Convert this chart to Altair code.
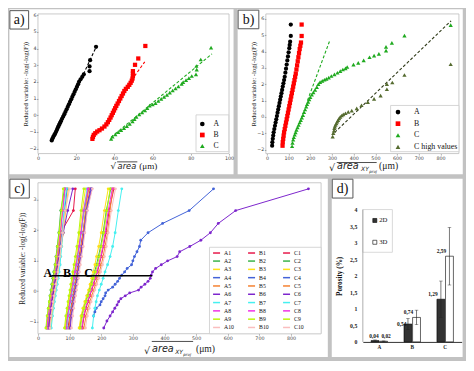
import altair as alt
import pandas as pd

SX = 456 / 474
SY = 350 / 371
SERIF = "Liberation Serif"
SANS = "DejaVu Sans"

# ---------------- panel a data ----------------
a_A_x = [7.2, 7.6, 8.0, 8.5, 9.0, 9.5, 10.0, 10.5, 11.0, 11.5, 12.0, 12.6, 13.2, 13.8, 14.4, 15.0, 15.6,
         16.2, 16.8, 17.4, 18.0, 18.6, 19.2, 19.8, 20.4, 21.0, 21.5, 22.3, 23.2, 24.0, 27.0, 27.0, 27.3, 30.4]
a_A_y = [-1.51, -1.4, -1.3, -1.2, -1.1, -0.98, -0.85, -0.72, -0.6, -0.48, -0.36, -0.22, -0.08, 0.06, 0.2,
         0.35, 0.5, 0.65, 0.8, 0.95, 1.1, 1.25, 1.4, 1.55, 1.7, 1.85, 2.0, 2.15, 2.3, 2.45, 2.64, 2.92, 3.3, 4.1]
a_B_x = [28.5, 28.8, 29.2, 30.0, 31.0, 32.2, 33.5, 34.8, 35.8, 36.6, 37.3, 38.0, 38.6, 39.2, 39.8, 40.4,
         41.0, 41.7, 42.4, 43.1, 43.8, 44.5, 45.2, 46.0, 47.0, 47.8, 48.5, 49.1, 49.5, 49.7, 49.7, 49.7,
         50.8, 52.5, 56.2]
a_B_y = [-1.42, -1.3, -1.18, -1.08, -0.98, -0.9, -0.8, -0.68, -0.55, -0.42, -0.28, -0.14, 0.0, 0.14, 0.28,
         0.42, 0.56, 0.7, 0.85, 1.0, 1.15, 1.3, 1.45, 1.58, 1.7, 1.82, 1.94, 2.07, 2.2, 2.35, 2.5, 2.64,
         3.02, 3.4, 4.15]
a_C_x = [38.3, 39.0, 40.5, 42.0, 43.5, 45.0, 46.5, 48.0, 49.5, 50.5, 51.5, 53.0, 54.5, 56.0, 57.2, 58.4,
         60.0, 61.5, 63.0, 64.5, 66.0, 67.5, 69.0, 70.5, 72.0, 73.5, 75.2, 76.0, 77.5, 79.0, 80.5, 82.7,
         83.1, 82.9, 85.2, 90.6]
a_C_y = [-1.42, -1.28, -1.15, -1.02, -0.9, -0.78, -0.66, -0.52, -0.38, -0.24, -0.1, 0.04, 0.16, 0.28, 0.42,
         0.57, 0.64, 0.72, 0.85, 0.98, 1.1, 1.22, 1.35, 1.48, 1.6, 1.72, 1.88, 1.98, 2.1, 2.22, 2.35, 2.45,
         2.73, 2.95, 3.34, 4.05]
a_fit_s = ["A", "A", "B", "B", "C", "C"]
a_fit_x = [7.2, 30.7, 49.0, 55.9, 38.3, 91.1]
a_fit_y = [-1.61, 4.15, 2.1, 3.2, -1.32, 3.68]

# ---------------- panel b data ----------------
b_A_x = [24, 25, 27, 29, 31, 34, 37, 40, 43, 46, 49, 52, 55, 58, 61, 64, 67, 70, 73, 76, 79, 82, 85, 88,
         91, 94, 97, 100, 103, 105, 107, 110, 110]
b_A_y = [-1.77, -1.55, -1.35, -1.15, -0.95, -0.75, -0.55, -0.35, -0.15, 0.05, 0.25, 0.45, 0.65, 0.85, 1.05,
         1.25, 1.45, 1.65, 1.85, 2.05, 2.25, 2.45, 2.7, 2.95, 3.2, 3.45, 3.7, 3.95, 4.2, 4.4, 4.6, 4.95, 5.65]
b_B_x = [72, 73, 75, 77, 79, 82, 85, 88, 91, 94, 97, 100, 103, 106, 109, 112, 115, 118, 121, 124, 127, 130,
         133, 136, 139, 142, 145, 148, 151, 154, 157, 160, 160]
b_B_y = [-1.77, -1.55, -1.35, -1.15, -0.95, -0.75, -0.55, -0.35, -0.15, 0.05, 0.25, 0.45, 0.65, 0.85, 1.05,
         1.25, 1.45, 1.65, 1.85, 2.05, 2.25, 2.45, 2.65, 2.9, 3.15, 3.4, 3.65, 3.9, 4.15, 4.35, 4.55, 4.95, 5.65]
b_C_x = [116, 118, 121, 124, 128, 132, 136, 141, 146, 151, 156, 161, 166, 171, 176, 181, 185, 190, 195, 200,
         207, 214, 222, 230, 237, 245, 255, 265, 274, 285, 297, 311, 325, 338, 350, 362, 370, 399, 421, 446,
         473, 494, 516, 549, 549, 576, 634, 847]
b_C_y = [-1.8, -1.6, -1.4, -1.25, -1.1, -0.95, -0.8, -0.65, -0.5, -0.35, -0.2, -0.05, 0.1, 0.29, 0.45, 0.62,
         0.77, 0.92, 1.07, 1.2, 1.35, 1.5, 1.65, 1.82, 2.0, 2.12, 2.2, 2.27, 2.32, 2.4, 2.5, 2.6, 2.7, 2.8,
         2.9, 2.97, 3.05, 3.2, 3.3, 3.46, 3.65, 3.75, 3.85, 4.05, 4.28, 4.53, 4.97, 5.62]
b_H_x = [303, 306, 309, 311, 313, 316, 320, 324, 328, 333, 338, 345, 352, 362, 375, 391, 414, 436, 465, 494,
         524, 553, 553, 578, 634, 847]
b_H_y = [-1.21, -1.0, -0.85, -0.7, -0.6, -0.5, -0.4, -0.3, -0.2, -0.1, 0.0, 0.08, 0.15, 0.22, 0.3, 0.38,
         0.52, 0.71, 0.9, 1.1, 1.3, 1.69, 2.0, 2.1, 2.56, 3.22]
b_fit_s = ["C", "C", "C high values", "C high values"]
b_fit_x = [187, 291, 312, 849]
b_fit_y = [1.0, 4.72, -0.96, 5.88]

# ---------------- panel c data ----------------
c_levels28 = [-1.214, -0.984, -0.819, -0.684, -0.564, -0.455, -0.352, -0.253, -0.157, -0.063, 0.031, 0.125,
              0.221, 0.317, 0.417, 0.519, 0.627, 0.740, 0.861, 0.989, 1.130, 1.287, 1.461, 1.666, 1.911,
              2.216, 2.638, 3.350]
c_levels15 = [-1.214, -0.819, -0.564, -0.352, -0.157, 0.031, 0.221, 0.417, 0.627, 0.861, 1.130, 1.461,
              1.911, 2.638, 3.350]
c_x = {
    "A1": [36, 40, 43, 46, 48, 50, 53, 55, 58, 61, 64, 68, 72, 112, 118],
    "A2": [27, 30, 33, 36, 38, 41, 44, 47, 50, 54, 57, 61, 66, 72, 84],
    "A3": [40, 44, 47, 50, 52, 55, 57, 60, 63, 66, 70, 74, 80, 88, 96],
    "A4": [32, 36, 39, 42, 45, 48, 51, 54, 57, 61, 65, 70, 76, 84, 92],
    "A5": [30, 34, 37, 40, 43, 46, 49, 52, 56, 59, 63, 67, 72, 78, 86],
    "A6": [34, 38, 41, 44, 47, 50, 53, 56, 59, 62, 66, 72, 80, 94, 110],
    "A7": [42, 46, 49, 52, 55, 58, 61, 64, 67, 70, 72, 75, 78, 82, 90],
    "A8": [28, 32, 36, 39, 42, 45, 48, 51, 54, 57, 60, 64, 70, 78, 85],
    "A9": [25, 29, 33, 36, 39, 43, 46, 49, 52, 55, 58, 62, 67, 74, 80],
    "A10": [38, 42, 45, 48, 51, 54, 57, 60, 63, 66, 69, 73, 78, 86, 100],
    "B1": [95, 100, 104, 107, 110, 113, 116, 119, 122, 126, 130, 135, 142, 152, 165],
    "B2": [88, 92, 96, 100, 103, 106, 109, 112, 116, 120, 124, 130, 136, 146, 160],
    "B3": [86, 90, 94, 98, 101, 104, 107, 110, 114, 118, 122, 126, 132, 140, 150],
    "B4": [100, 104, 108, 111, 114, 117, 120, 123, 126, 130, 134, 139, 145, 152, 168],
    "B5": [98, 102, 106, 109, 112, 115, 118, 121, 124, 128, 132, 137, 143, 150, 160],
    "B6": [102, 106, 110, 113, 116, 119, 122, 125, 128, 131, 135, 140, 146, 155, 170],
    "B7": [92, 96, 100, 103, 106, 109, 112, 115, 118, 122, 126, 131, 137, 145, 155],
    "B8": [90, 94, 98, 101, 104, 107, 110, 113, 117, 121, 125, 130, 136, 144, 158],
    "B9": [84, 88, 92, 95, 98, 101, 104, 107, 110, 114, 118, 123, 129, 136, 145],
    "B10": [106, 110, 113, 116, 119, 122, 125, 128, 131, 134, 138, 143, 148, 156, 172],
    "C1": [140, 146, 152, 158, 164, 170, 176, 182, 188, 194, 200, 207, 215, 225, 240],
    "C2": [132, 138, 144, 150, 156, 162, 167, 173, 179, 185, 191, 198, 206, 216, 230],
    "C3": [130, 136, 142, 148, 154, 160, 165, 170, 175, 180, 185, 192, 200, 210, 222],
    "C4": [176, 180, 184, 196, 200, 206, 212, 214, 222, 236, 244, 252, 258, 265, 274, 282, 296, 300, 305,
           313, 321, 325, 348, 394, 478, 555],
    "C5": [145, 152, 158, 164, 170, 176, 182, 188, 194, 200, 206, 212, 220, 228, 236],
    "C6": [208, 218, 228, 236, 243, 250, 255, 262, 276, 290, 318, 326, 338, 348, 355, 358, 362, 372, 390,
           410, 440, 448, 480, 515, 545, 570, 625, 855],
    "C7": [172, 176, 180, 184, 188, 194, 200, 206, 212, 220, 228, 236, 244, 254, 265],
    "C8": [138, 144, 150, 156, 162, 168, 174, 180, 186, 192, 198, 205, 212, 222, 235],
    "C9": [134, 140, 146, 152, 158, 164, 170, 176, 182, 188, 194, 200, 208, 218, 228],
    "C10": [150, 156, 162, 168, 174, 180, 186, 192, 198, 204, 210, 216, 222, 232, 245],
}
c_groups = ["A", "B", "C"]
c_palette = ["#e6194b", "#3cb44b", "#ffe119", "#4363d8", "#f58231", "#7d26cd", "#46f0f0", "#f032e6",
             "#bcf60c", "#fabebe"]
c_letters = ["A", "B", "C"]
c_letters_x = [31, 92, 160]
c_letters_y = [0.47, 0.47, 0.47]
c_bar_x = [42]
c_bar_x2 = [361]
c_bar_y = [0.5]

# ---------------- panel d data ----------------
d_cats = ["A", "B", "C"]
d_2d = [0.04, 0.54, 1.29]
d_3d = [0.02, 0.74, 2.59]
d_err2d = [0.02, 0.17, 0.55]
d_err3d = [0.01, 0.22, 0.87]
d_ticks = [0, 0.5, 1, 1.5, 2, 2.5, 3, 3.5, 4]

# ---------------- helpers ----------------
ONE = pd.DataFrame({"k": [0]})


def rel(o, x, y):
    return (x - o[0]) * SX, (y - o[1]) * SY


def prect(o, x1, y1, x2, y2, **mk):
    (ax, ay), (bx, by) = rel(o, x1, y1), rel(o, x2, y2)
    return alt.Chart(ONE).mark_rect(**mk).encode(
        x=alt.value(ax), x2=alt.value(bx), y=alt.value(ay), y2=alt.value(by))


def pseg(o, x1, y1, x2, y2, **mk):
    (ax, ay), (bx, by) = rel(o, x1, y1), rel(o, x2, y2)
    return alt.Chart(ONE).mark_rule(**mk).encode(
        x=alt.value(ax), x2=alt.value(bx), y=alt.value(ay), y2=alt.value(by))


def ptext(o, x, y, text, size, **mk):
    ax, ay = rel(o, x, y)
    return alt.Chart(ONE).mark_text(text=text, fontSize=size * SX, **mk).encode(
        x=alt.value(ax), y=alt.value(ay))


def chrome(o, box, lbox, label):
    return [
        prect(o, *box, fill="white"),
        prect(o, *lbox, fill="white", stroke="#555555", strokeWidth=1),
        ptext(o, (lbox[0] + lbox[2]) / 2, (lbox[1] + lbox[3]) / 2 + 0.5, label, 14.5,
              font=SERIF, align="center", baseline="middle", color="#111111"),
    ]


def frame(W, H):
    return alt.Chart(ONE).mark_rect(fillOpacity=0, stroke="#bdbdbd", strokeWidth=0.8).encode(
        x=alt.value(0), x2=alt.value(W), y=alt.value(0), y2=alt.value(H))


def sqrt_title(o, sq, bar, area, subs, um):
    L = [
        ptext(o, sq[0], sq[1], "√", sq[2], font=SANS, align="left", baseline="alphabetic", color="#222222"),
        pseg(o, bar[0], bar[2], bar[1], bar[2], color="#222222", strokeWidth=0.8),
        ptext(o, area[0], area[1], "area", area[2], font=SANS, fontStyle="italic", align="left",
              baseline="alphabetic", color="#222222"),
    ]
    for t, x, y, s in subs:
        L.append(ptext(o, x, y, t, s, font=SANS, fontStyle="italic", align="left", baseline="alphabetic",
                       color="#222222"))
    L.append(ptext(o, um[0], um[1], "(μm)", um[2], font=SERIF, align="left", baseline="alphabetic",
                   color="#222222"))
    return L


def fit_lines(df, xenc, yenc, names, colors):
    out = []
    for nm, col in zip(names, colors):
        out.append(alt.Chart(df).mark_line(strokeDash=[3, 2], strokeWidth=1.1, color=col).encode(
            x=xenc, y=yenc).transform_filter(alt.datum.f == nm))
    return out


TICK = dict(grid=False, domain=False, ticks=True, tickSize=1.5, tickColor="#777777", tickWidth=0.6,
            labelFont=SANS, labelFontSize=4.8, labelColor="#444444", labelPadding=0.5, labelFlush=False,
            zindex=1)
YT = dict(titleFont=SERIF, titleFontWeight="normal", titleColor="#222222", titleAngle=270,
          titleAlign="center", titleBaseline="bottom")
YTITLE = "Reduced variable: -log(-log(F))"

# ---------------- panel a ----------------
oA = (30.7, 6.0)
WA = (229.3 - 30.7) * SX
HA = (154 - 6) * SY
dfa = pd.concat([
    pd.DataFrame({"s": "A", "x": a_A_x, "y": a_A_y}),
    pd.DataFrame({"s": "B", "x": a_B_x, "y": a_B_y}),
    pd.DataFrame({"s": "C", "x": a_C_x, "y": a_C_y}),
])
dfa_fit = pd.DataFrame({"f": a_fit_s, "x": a_fit_x, "y": a_fit_y})
xa = alt.X("x:Q", scale=alt.Scale(domain=[0, 100], nice=False, zero=False),
           axis=alt.Axis(values=[0, 20, 40, 60, 80, 100], title=None, **TICK))
ya = alt.Y("y:Q", scale=alt.Scale(domain=[-2.3, 6.07], nice=False, zero=False),
           axis=alt.Axis(values=list(range(-2, 7)), title=YTITLE, titleX=-9.6, titleY=HA / 2,
                         titleFontSize=7 * SX, **YT, **TICK))
leg_a = alt.Legend(title=None, orient="none", legendX=160.5, legendY=106.2, labelFont=SERIF,
                   labelFontSize=8 * SX, labelColor="#111111", symbolSize=22, rowPadding=2.0,
                   labelOffset=7.3, padding=0, zindex=1, symbolStrokeWidth=0)
dom_a = ["A", "B", "C"]
col_a = ["#000000", "#ff0000", "#1faa1f"]
pts_a = alt.Chart(dfa).mark_point(filled=True, opacity=1, size=18, strokeWidth=0).encode(
    x=xa, y=ya,
    color=alt.Color("s:N", scale=alt.Scale(domain=dom_a, range=col_a), legend=leg_a),
    shape=alt.Shape("s:N", scale=alt.Scale(domain=dom_a, range=["circle", "square", "triangle-up"]),
                    legend=leg_a))
panel_a = alt.layer(
    *chrome(oA, (1, 1, 234, 176), (1.5, 2.5, 21, 22), "a)"),
    frame(WA, HA), *fit_lines(dfa_fit, xa, ya, dom_a, col_a),
    prect(oA, 195, 113, 229, 152, fill="white", stroke="#cccccc", strokeWidth=0.8),
    pts_a,
    *sqrt_title(oA, (106, 170.5, 9), (113, 134, 162.8), (113.5, 170, 8.6), [], (136, 170, 9.5)),
).properties(width=WA, height=HA)

# ---------------- panel b ----------------
oB = (266.3, 6.0)
WB = (467 - 266.3) * SX
HB = (154 - 6) * SY
dfb = pd.concat([
    pd.DataFrame({"s": "A", "x": b_A_x, "y": b_A_y}),
    pd.DataFrame({"s": "B", "x": b_B_x, "y": b_B_y}),
    pd.DataFrame({"s": "C", "x": b_C_x, "y": b_C_y}),
    pd.DataFrame({"s": "C high values", "x": b_H_x, "y": b_H_y}),
])
dfb_fit = pd.DataFrame({"f": b_fit_s, "x": b_fit_x, "y": b_fit_y})
xb = alt.X("x:Q", scale=alt.Scale(domain=[-5, 885], nice=False, zero=False),
           axis=alt.Axis(values=list(range(0, 900, 100)), title=None, **TICK))
yb = alt.Y("y:Q", scale=alt.Scale(domain=[-2.25, 6.3], nice=False, zero=False),
           axis=alt.Axis(values=list(range(-2, 7)), title=YTITLE, titleX=-8.9, titleY=HB / 2,
                         titleFontSize=7 * SX, **YT, **TICK))
leg_b = alt.Legend(title=None, orient="none", legendX=128.2, legendY=94.2, labelFont=SERIF,
                   labelFontSize=8.2 * SX, labelColor="#111111", symbolSize=22, rowPadding=2.6,
                   labelOffset=12.1, padding=0, zindex=1, symbolStrokeWidth=0)
dom_b = ["A", "B", "C", "C high values"]
col_b = ["#000000", "#ff0000", "#1faa1f", "#556b2f"]
pts_b = alt.Chart(dfb).mark_point(filled=True, opacity=1, size=18, strokeWidth=0).encode(
    x=xb, y=yb,
    color=alt.Color("s:N", scale=alt.Scale(domain=dom_b, range=col_b), legend=leg_b),
    shape=alt.Shape("s:N", scale=alt.Scale(domain=dom_b,
                                          range=["circle", "square", "triangle-up", "triangle-up"]),
                    legend=leg_b))
panel_b = alt.layer(
    *chrome(oB, (237, 1, 471, 176), (237.5, 2, 259, 21.7), "b)"),
    frame(WB, HB), *fit_lines(dfb_fit, xb, yb, ["C", "C high values"], ["#1faa1f", "#2f3a18"]),
    prect(oB, 396, 103, 467, 152, fill="white", stroke="#cccccc", strokeWidth=0.8),
    pts_b,
    *sqrt_title(oB, (332, 172, 10), (340, 381.5, 163.5), (340.3, 170.5, 10),
                [("XY", 365.3, 173, 6.2), ("proj", 373.7, 175, 4.2)], (384, 170.5, 10)),
).properties(width=WB, height=HB)

# ---------------- panel c ----------------
oC = (30.7, 183.3)
WC = (325 - 30.7) * SX
HC = (343.3 - 183.3) * SY
rows = []
for name, xs in c_x.items():
    ys = c_levels15 if len(xs) == 15 else c_levels28[len(c_levels28) - len(xs):]
    for i, (xv, yv) in enumerate(zip(xs, ys)):
        rows.append({"s": name, "i": i, "x": xv, "y": yv})
dfc = pd.DataFrame(rows)
c_order = [f"{g}{k}" for g in c_groups for k in range(1, 11)]
c_range = [c_palette[k - 1] for g in c_groups for k in range(1, 11)]
xc = alt.X("x:Q", scale=alt.Scale(domain=[0, 895], nice=False, zero=False),
           axis=alt.Axis(values=list(range(0, 900, 100)), title=None, **TICK))
yc = alt.Y("y:Q", scale=alt.Scale(domain=[-1.4, 3.55], nice=False, zero=False),
           axis=alt.Axis(values=[-1, 0, 1, 2, 3], title=YTITLE, titleX=-11.9, titleY=HC / 2,
                         titleFontSize=7.6 * SX, **YT, **TICK))
leg_c = alt.Legend(title=None, orient="none", legendX=174.1, legendY=65.5, columns=3, symbolType="stroke",
                   symbolSize=49, symbolStrokeWidth=1.5, labelFont=SERIF, labelFontSize=6 * SX,
                   labelColor="#111111", labelOffset=3, rowPadding=0.3, columnPadding=11,
                   padding=0, zindex=1, symbolLimit=40)
cscale = alt.Scale(domain=c_order, range=c_range)
lines_c = alt.Chart(dfc).mark_line(strokeWidth=1).encode(
    x=xc, y=yc, color=alt.Color("s:N", scale=cscale, legend=leg_c), order=alt.Order("i:Q"))
pts_c = alt.Chart(dfc).mark_point(filled=True, opacity=1, size=8, strokeWidth=0).encode(
    x=xc, y=yc, color=alt.Color("s:N", scale=cscale, legend=leg_c))
dfc_rule = pd.DataFrame({"x": c_bar_x, "x2": c_bar_x2, "y": c_bar_y})
rule_c = alt.Chart(dfc_rule).mark_rule(color="black", strokeWidth=1.3).encode(x=xc, x2="x2:Q", y=yc)
dfc_let = pd.DataFrame({"t": c_letters, "x": c_letters_x, "y": c_letters_y})
let_c = alt.Chart(dfc_let).mark_text(font=SERIF, fontWeight="bold", fontSize=12.5 * SX,
                                     baseline="alphabetic", align="center", color="black").encode(
    x=xc, y=yc, text="t:N")
panel_c = alt.layer(
    *chrome(oC, (1, 179, 332, 368), (1.5, 179.5, 21.7, 199.5), "c)"),
    frame(WC, HC), lines_c, pts_c, rule_c, let_c,
    prect(oC, 209, 251.7, 325, 343.3, fill="white", stroke="#cccccc", strokeWidth=0.8),
    *sqrt_title(oC, (141, 364.5, 10), (149, 192, 351.5), (149.3, 362.7, 10),
                [("XY", 173.3, 365.3, 6.2), ("proj", 181.7, 366.5, 4.2)], (195, 363, 10)),
).properties(width=WC, height=HC)

# ---------------- panel d ----------------
# plot area top aligned with panel c (row alignment); the value axis runs 0..4 below it
oD = (367.3, 183.3)
D_TOP4 = 211.7
D_ZERO = 352.0
WD = (470 - 367.3) * SX
HD = (D_ZERO - oD[1]) * SY
d_ymax = 4 + (D_TOP4 - oD[1]) / ((D_ZERO - D_TOP4) / 4)
dfd = pd.DataFrame({
    "cat": d_cats * 2,
    "kind": ["2D"] * 3 + ["3D"] * 3,
    "v": d_2d + d_3d,
    "e": d_err2d + d_err3d,
})
dfd["lo"] = dfd["v"] - dfd["e"]
dfd["hi"] = dfd["v"] + dfd["e"]
dfd["lab"] = [f"{v:.2f}".replace(".", ",") for v in dfd["v"]]
dfd["key"] = dfd["cat"] + dfd["kind"]
xd = alt.X("cat:N", scale=alt.Scale(domain=d_cats, paddingInner=0.5, paddingOuter=0.25),
           axis=alt.Axis(title=None, labelAngle=0, domainColor="black", domainWidth=0.8, ticks=False,
                         labelFont=SERIF, labelFontWeight="bold", labelFontSize=5.5 * SX,
                         labelColor="#222222", labelPadding=3, zindex=1))
xo = alt.XOffset("kind:N", scale=alt.Scale(domain=["2D", "3D"], paddingInner=0.08))
yscale_d = alt.Scale(domain=[0, d_ymax], nice=False, zero=True)
yaxis_d = alt.Axis(values=d_ticks, grid=False, domain=False,
                   ticks=False, labelFont=SERIF, labelFontWeight="bold", labelFontSize=6 * SX,
                   labelColor="#222222", labelPadding=6, zindex=1,
                   labelExpr="replace(format(datum.value, '~g'), '.', ',')",
                   title="Porosity (%)", titleFont=SERIF, titleFontWeight="bold", titleFontSize=7.5 * SX,
                   titleColor="#111111", titleAngle=270, titleAlign="center", titleBaseline="bottom",
                   titleX=-19.8, titleY=(282 - oD[1]) * SY)
leg_d = alt.Legend(title=None, orient="none", legendX=8.6, legendY=(223.3 - oD[1]) * SY - 3.4,
                   symbolType="square", symbolSize=16, symbolStrokeColor="black", symbolStrokeWidth=0.6,
                   labelFont=SERIF, labelFontSize=7 * SX, labelColor="#111111", labelOffset=1,
                   rowPadding=13.8, padding=0, zindex=1)
bars_d = alt.Chart(dfd).mark_bar(stroke="black", strokeWidth=0.6).encode(
    x=xd, xOffset=xo, y=alt.Y("v:Q", scale=yscale_d, axis=yaxis_d),
    color=alt.Color("kind:N", scale=alt.Scale(domain=["2D", "3D"], range=["#333333", "#ffffff"]),
                    legend=leg_d))
err_d = alt.Chart(dfd).mark_rule(color="#222222", strokeWidth=0.6).encode(
    x=xd, xOffset=xo, y=alt.Y("lo:Q", scale=yscale_d, axis=yaxis_d), y2="hi:Q")
caph_d = alt.Chart(dfd).mark_tick(color="#222222", thickness=0.6, size=3.5).encode(
    x=xd, xOffset=xo, y=alt.Y("hi:Q", scale=yscale_d, axis=yaxis_d))
capl_d = alt.Chart(dfd).mark_tick(color="#222222", thickness=0.6, size=3.5).encode(
    x=xd, xOffset=xo, y=alt.Y("lo:Q", scale=yscale_d, axis=yaxis_d))
TXT = dict(font=SERIF, fontWeight="bold", fontSize=5.6 * SX, color="#111111")
labA2_d = alt.Chart(dfd).mark_text(dx=-1, dy=-5, align="center", baseline="middle", **TXT).encode(
    x=xd, xOffset=xo, y=alt.Y("v:Q", scale=yscale_d, axis=yaxis_d), text="lab:N"
).transform_filter("datum.key == 'A2D'")
labA3_d = alt.Chart(dfd).mark_text(dx=2.5, dy=-5, align="center", baseline="middle", **TXT).encode(
    x=xd, xOffset=xo, y=alt.Y("v:Q", scale=yscale_d, axis=yaxis_d), text="lab:N"
).transform_filter("datum.key == 'A3D'")
labB_d = alt.Chart(dfd).mark_text(dx=-1.5, dy=0, align="right", baseline="middle", **TXT).encode(
    x=xd, xOffset=xo, y=alt.Y("v:Q", scale=yscale_d, axis=yaxis_d), text="lab:N"
).transform_filter("datum.key == 'B2D'")
labR_d = alt.Chart(dfd).mark_text(dx=-8, dy=-5.5, align="center", baseline="middle", **TXT).encode(
    x=xd, xOffset=xo, y=alt.Y("v:Q", scale=yscale_d, axis=yaxis_d), text="lab:N"
).transform_filter("datum.key == 'B3D' || datum.key == 'C2D' || datum.key == 'C3D'")
panel_d = alt.layer(
    *chrome(oD, (335, 179, 471, 368), (335.5, 179.5, 357, 199.5), "d)"),
    prect(oD, 367.3, D_TOP4, 398, 257, fill="white", stroke="#d0d0d0", strokeWidth=0.8),
    pseg(oD, 367.3, D_TOP4, 367.3, D_ZERO, color="#9a9a9a", strokeWidth=0.8),
    bars_d, err_d, caph_d, capl_d, labA2_d, labA3_d, labB_d, labR_d,
).properties(width=WD, height=HD)

RS = dict(x="independent", y="independent", color="independent", shape="independent")
RL = dict(color="independent", shape="independent")
top = alt.hconcat(panel_a, panel_b, spacing=3 * SX).resolve_scale(**RS).resolve_legend(**RL)
bot = alt.hconcat(panel_c, panel_d, spacing=3 * SX).resolve_scale(**RS).resolve_legend(**RL)
chart = alt.vconcat(top, bot, spacing=3 * SY).resolve_scale(**RS).resolve_legend(**RL).properties(
    padding={"left": 1 * SX, "top": 1 * SY, "right": 3 * SX, "bottom": 3 * SY},
    background="#c2c2c2",
).configure_view(strokeWidth=0)

chart.save("out.html", embed_options={"renderer": "svg", "actions": False})
